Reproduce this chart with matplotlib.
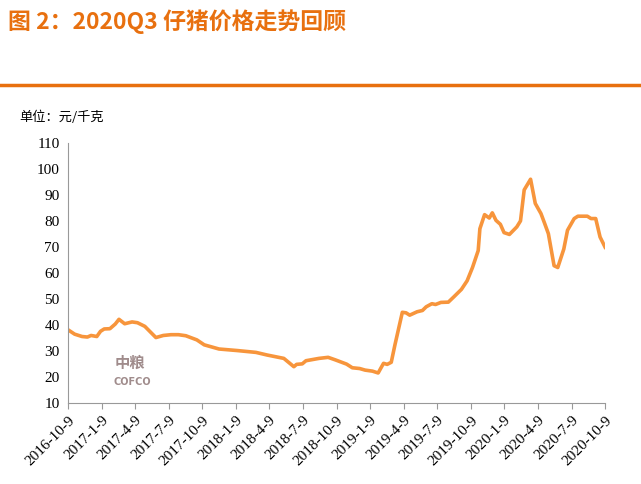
import matplotlib
matplotlib.use("Agg")
import matplotlib.pyplot as plt

# position in quarters since 2016-10-9, price in yuan/kg
quarter_pos = [0, 0.20, 0.42, 0.58, 0.69, 0.86, 0.97, 1.08, 1.25, 1.41, 1.52, 1.69, 1.91, 2.07,
               2.29, 2.62, 2.84, 3.07, 3.29, 3.51, 3.84, 4.06, 4.50, 5.05, 5.60, 5.93, 6.43,
               6.73, 6.81, 6.98, 7.09, 7.48, 7.75, 7.97, 8.30, 8.47, 8.69, 8.85, 9.07, 9.24,
               9.40, 9.51, 9.63, 9.74, 9.96, 10.07, 10.18, 10.40, 10.56, 10.67, 10.84, 10.95,
               11.11, 11.33, 11.50, 11.72, 11.89, 12.05, 12.22, 12.27, 12.41, 12.55, 12.64,
               12.75, 12.88, 12.99, 13.15, 13.37, 13.48, 13.59, 13.78, 13.92, 14.09, 14.20,
               14.31, 14.48, 14.59, 14.77, 14.88, 15.08, 15.19, 15.47, 15.58, 15.72, 15.85, 16.0]
price = [38.2, 36.5, 35.6, 35.4, 36.0, 35.6, 37.6, 38.5, 38.6, 40.4, 42.2, 40.5, 41.2, 40.9,
         39.5, 35.2, 36.0, 36.3, 36.3, 35.9, 34.3, 32.4, 30.8, 30.2, 29.5, 28.5, 27.2,
         24.0, 24.9, 25.1, 26.3, 27.2, 27.6, 26.6, 25.0, 23.6, 23.3, 22.7, 22.3, 21.6,
         25.3, 24.9, 25.7, 32.4, 44.9, 44.7, 43.8, 45.1, 45.6, 47.0, 48.2, 47.9,
         48.7, 48.8, 50.9, 53.7, 57.0, 62.1, 68.6, 77.0, 82.4, 81.1, 83.1,
         80.2, 78.7, 75.5, 74.8, 77.7, 80.0, 91.9, 96.0, 86.7, 82.8, 79.0,
         75.1, 62.8, 62.1, 69.2, 76.4, 80.9, 81.8, 81.8, 80.9, 80.9, 73.8, 69.9]
tick_labels = ["2016-10-9", "2017-1-9", "2017-4-9", "2017-7-9", "2017-10-9", "2018-1-9",
               "2018-4-9", "2018-7-9", "2018-10-9", "2019-1-9", "2019-4-9", "2019-7-9",
               "2019-10-9", "2020-1-9", "2020-4-9", "2020-7-9", "2020-10-9"]
y_ticks = list(range(10, 111, 10))

orange = "#F7953C"
cjk = ["Noto Sans CJK SC", "DejaVu Sans"]
serif = ["Liberation Serif", "DejaVu Serif"]

fig = plt.figure(figsize=(6.41, 4.84), dpi=100)
fig.text(0.012, 0.955, "图 2：2020Q3 仔猪价格走势回顾", family=cjk, fontsize=16.5,
         fontweight="bold", color="#E8700F", va="center")
fig.add_artist(plt.Line2D([0, 1], [0.825, 0.825], color="#E8700F", lw=2.5))
fig.text(0.03, 0.757, "单位：元/千克", family=cjk, fontsize=9.5, va="center")

ax = fig.add_axes([0.106, 0.167, 0.838, 0.538])
ax.plot(quarter_pos, price, color=orange, lw=2.6)
ax.set_xlim(0, 16)
ax.set_ylim(10, 110)
ax.set_yticks(y_ticks)
ax.set_yticklabels([str(v) for v in y_ticks], family=serif, fontsize=11)
ax.set_xticks(range(len(tick_labels)))
ax.set_xticklabels(tick_labels, rotation=45, ha="right", rotation_mode="anchor",
                   family=serif, fontsize=11)
for s in ["top", "right"]:
    ax.spines[s].set_visible(False)
for s in ["left", "bottom"]:
    ax.spines[s].set_color("#999999")
ax.tick_params(axis="y", length=0, pad=6)
ax.tick_params(axis="x", length=4, color="#999999", direction="out")

# faint watermark logo text
ax.text(1.4, 23.5, "中粮", family=cjk, fontsize=11, color="#a08c8c", fontweight="bold")
ax.text(1.35, 17.0, "COFCO", fontsize=7, color="#a08c8c", fontweight="bold")

fig.savefig("out.png", dpi=100)
